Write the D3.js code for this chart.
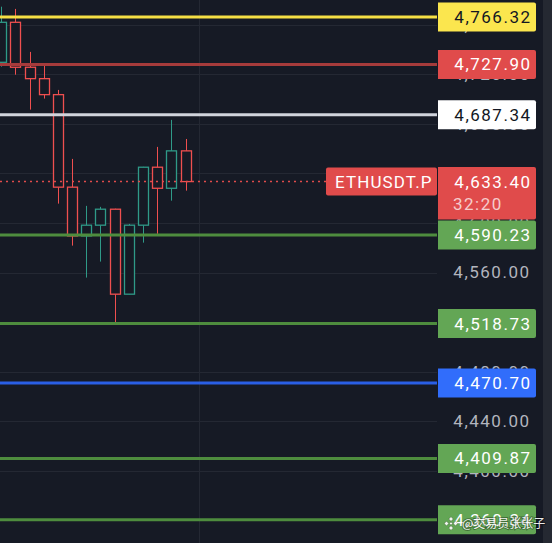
<!DOCTYPE html>
<html>
<head>
<meta charset="utf-8">
<script src="https://cdn.jsdelivr.net/npm/d3@7"></script>
<style>
  html, body { margin: 0; padding: 0; background: #161a25; overflow: hidden; }
  svg { display: block; }
</style>
</head>
<body>
<svg id="chart" width="552" height="543"></svg>
<script>
// ETHUSDT.P candles (oldest → newest)
const opens  = [4729.7, 4762.0, 4725.7, 4716.5, 4703.6, 4628.9, 4589.5, 4598.2, 4611.1, 4542.5, 4598.2, 4645.0, 4628.0, 4658.2];
const highs  = [4774.6, 4772.8, 4738.1, 4728.9, 4707.4, 4651.7, 4613.8, 4613.0, 4611.5, 4599.2, 4645.3, 4661.4, 4683.2, 4667.8];
const lows   = [4726.2, 4719.7, 4691.5, 4700.4, 4615.6, 4581.7, 4555.9, 4568.8, 4518.73, 4542.3, 4584.1, 4591.2, 4618.0, 4626.1];
const closes = [4762.0, 4725.7, 4716.5, 4703.6, 4628.9, 4589.5, 4598.2, 4611.1, 4542.5, 4598.2, 4645.0, 4628.0, 4658.2, 4633.40];

// Horizontal price levels
const levelPrices = [4766.32, 4727.90, 4687.34, 4590.23, 4518.73, 4470.70, 4409.87, 4360.34];
const levelKinds  = ["yellow", "red", "white", "green", "green", "blue", "green", "green"];

// Price axis ticks
const tickValues = d3.range(4360, 4761, 40);

const symbol = "ETHUSDT.P";
const lastPrice = 4633.40;
const countdown = "32:20";
const watermark = "@交易员张张子";

const W = 552, H = 543;
const plotRight = 437;
const axisRight = 543;
const font = "Roboto, 'Noto Sans', sans-serif";
const fontSize = 17;
const spacing = 1.5;

const palette = {
  yellow: { line: "#f5df45", tag: "#fbe64e", text: "#131722" },
  red:    { line: "#a63b3b", tag: "#e04b4b", text: "#ffffff" },
  white:  { line: "#d1d4dc", tag: "#ffffff", text: "#131722" },
  green:  { line: "#4e8c3e", tag: "#63a655", text: "#ffffff" },
  blue:   { line: "#2a5fe6", tag: "#316dfb", text: "#ffffff" }
};
const upColor = "#2f9a88", downColor = "#ef4f4f";

const svg = d3.select("#chart");

const y = d3.scaleLinear().domain([4340, 4780]).range([545, 0]);
const x = d3.scalePoint().domain(d3.range(opens.length)).range([1.3, 185.5]);

const fmt = d3.format(",.2f");

// background + right separator strip
svg.append("rect").attr("width", W).attr("height", H).attr("fill", "#161a25");
svg.append("rect").attr("x", axisRight).attr("width", W - axisRight).attr("height", H).attr("fill", "#252932");

// grid
const grid = svg.append("g").attr("shape-rendering", "crispEdges");
grid.selectAll("line.h").data(tickValues).join("line")
  .attr("x1", 0).attr("x2", plotRight)
  .attr("y1", d => Math.round(y(d)) + 0.5).attr("y2", d => Math.round(y(d)) + 0.5)
  .attr("stroke", "#242833").attr("stroke-width", 1);
grid.append("line")
  .attr("x1", 199.5).attr("x2", 199.5).attr("y1", 0).attr("y2", H)
  .attr("stroke", "#242833").attr("stroke-width", 1);

// price axis labels
const axis = d3.axisRight(y).tickValues(tickValues).tickFormat(fmt).tickSize(0).tickPadding(0);
const axisG = svg.append("g").attr("transform", `translate(${plotRight},0)`).call(axis);
axisG.select(".domain").remove();
axisG.selectAll("text")
  .attr("x", 93.5).attr("text-anchor", "end")
  .attr("fill", "#b2b5be").attr("font-size", fontSize).attr("font-family", font)
  .attr("letter-spacing", spacing);

// candles
const candles = svg.append("g");
const data = opens.map((o, i) => ({ i, o, h: highs[i], l: lows[i], c: closes[i] }));
const cg = candles.selectAll("g").data(data).join("g")
  .attr("stroke", d => d.c >= d.o ? upColor : downColor);
cg.each(function (d) {
  const g = d3.select(this);
  const cx = Math.round(x(d.i)) + 0.5;
  const top = y(Math.max(d.o, d.c)), bot = y(Math.min(d.o, d.c));
  g.append("line").attr("x1", cx).attr("x2", cx).attr("y1", y(d.h)).attr("y2", top).attr("stroke-width", 1);
  g.append("line").attr("x1", cx).attr("x2", cx).attr("y1", bot).attr("y2", y(d.l)).attr("stroke-width", 1);
  g.append("rect").attr("x", cx - 5).attr("width", 10)
    .attr("y", top).attr("height", Math.max(1, bot - top))
    .attr("fill", "#161a25").attr("stroke-width", 1.3);
});

// last price dotted line
svg.append("line")
  .attr("x1", 0).attr("x2", 326)
  .attr("y1", y(lastPrice)).attr("y2", y(lastPrice))
  .attr("stroke", "#e04b4b").attr("stroke-width", 1.5).attr("stroke-dasharray", "2,4");

// level lines
const levels = levelPrices.map((p, i) => ({ p, k: palette[levelKinds[i]] }));
svg.append("g").selectAll("line").data(levels).join("line")
  .attr("x1", 0).attr("x2", plotRight)
  .attr("y1", d => y(d.p)).attr("y2", d => y(d.p))
  .attr("stroke", d => d.k.line).attr("stroke-width", 3);

// level tags on the price axis
const tagX = 438, tagW = 98, tagH = 29;
const tags = svg.append("g").selectAll("g").data(levels).join("g")
  .attr("transform", d => `translate(${tagX},${y(d.p)})`);
tags.append("path")
  .attr("d", `M0,${-tagH / 2} H${tagW - 2} Q${tagW},${-tagH / 2} ${tagW},${-tagH / 2 + 2} V${tagH / 2 - 2} Q${tagW},${tagH / 2} ${tagW - 2},${tagH / 2} H0 Z`)
  .attr("fill", d => d.k.tag);
tags.append("text")
  .attr("x", 93.5).attr("y", 0).attr("dy", "0.35em").attr("text-anchor", "end")
  .attr("fill", d => d.k.text).attr("font-size", fontSize).attr("font-family", font)
  .attr("letter-spacing", spacing)
  .text(d => fmt(d.p));

// symbol + last price tag
const ly = y(lastPrice);
const sym = svg.append("g");
sym.append("rect").attr("x", 326).attr("y", ly - 14).attr("width", 111).attr("height", 28)
  .attr("rx", 2).attr("fill", "#e04b4b");
sym.append("text").attr("x", 335).attr("y", ly).attr("dy", "0.35em").attr("text-anchor", "start")
  .attr("fill", "#ffffff").attr("font-size", fontSize).attr("font-family", font)
  .attr("letter-spacing", 1.1).text(symbol);
sym.append("path")
  .attr("d", `M${tagX},${ly - 14.5} H${tagX + tagW - 2} Q${tagX + tagW},${ly - 14.5} ${tagX + tagW},${ly - 12.5} V${ly + 36} Q${tagX + tagW},${ly + 38} ${tagX + tagW - 2},${ly + 38} H${tagX} Z`)
  .attr("fill", "#e04b4b");
sym.append("text").attr("x", tagX + 93.5).attr("y", ly).attr("dy", "0.35em").attr("text-anchor", "end")
  .attr("fill", "#ffffff").attr("font-size", fontSize).attr("font-family", font)
  .attr("letter-spacing", spacing).text(fmt(lastPrice));
sym.append("text").attr("x", tagX + 15).attr("y", ly + 22).attr("dy", "0.35em").attr("text-anchor", "start")
  .attr("fill", "#ffffff").attr("fill-opacity", 0.72).attr("font-size", fontSize).attr("font-family", font)
  .attr("letter-spacing", spacing).text(countdown);

// watermark
const wm = svg.append("g").attr("opacity", 0.9);
const lx = 451, lyw = 523.5;
const logo = wm.append("g").attr("transform", `translate(${lx},${lyw})`)
  .attr("fill", "#ffffff").attr("stroke", "rgba(0,0,0,0.3)").attr("stroke-width", 0.8);
[[0, -4.5], [4.5, 0], [0, 4.5], [-4.5, 0]].forEach(([dx, dy]) => {
  logo.append("path").attr("d", `M${dx},${dy - 2.2} L${dx + 2.2},${dy} L${dx},${dy + 2.2} L${dx - 2.2},${dy} Z`);
});
logo.append("path").attr("d", "M0,-1.6 L1.6,0 L0,1.6 L-1.6,0 Z");
wm.append("text").attr("x", 462).attr("y", lyw).attr("dy", "0.35em")
  .attr("fill", "#ffffff").attr("font-size", 12)
  .attr("font-family", "'Noto Sans CJK SC', sans-serif")
  .attr("stroke", "rgba(0,0,0,0.35)").attr("stroke-width", 2).attr("paint-order", "stroke")
  .text(watermark);
</script>
</body>
</html>
